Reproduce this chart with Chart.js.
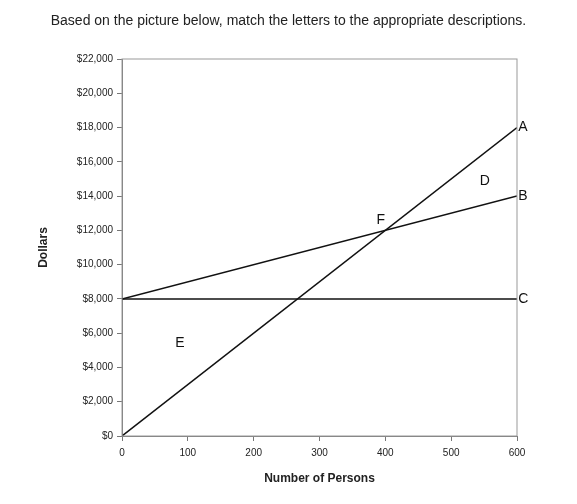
<!DOCTYPE html>
<html>
<head>
<meta charset="utf-8">
<script src="https://cdn.jsdelivr.net/npm/chart.js@4"></script>
<style>
  body { margin: 0; background: #fff; }
  #wrap { position: relative; width: 577px; height: 504px; }
  #title { position: absolute; top: 12px; left: 0; width: 577px; text-align: center;
           font: 14px "Liberation Sans", Arial, sans-serif; color: #222; }
</style>
</head>
<body>
<div id="wrap">
  <div id="title">Based on the picture below, match the letters to the appropriate descriptions.</div>
  <canvas id="c" width="577" height="504"></canvas>
</div>
<script>
// 데이터
const persons = [0, 600];
const lineA = [0, 18000];
const lineB = [8000, 14000];
const lineC = [8000, 8000];
const xTicks = [0, 100, 200, 300, 400, 500, 600];
const letters = ['A', 'B', 'C', 'D', 'E', 'F'];
const letterX = [602, 602, 602, 551, 88, 393];
const letterY = [18000, 14000, 8000, 14900, 5400, 12600];
const letterAlign = ['left', 'left', 'left', 'center', 'center', 'center'];

function toPoints(ys) {
    return persons.map((x, i) => ({ x: x, y: ys[i] }));
}

// 글자 라벨과 테두리를 그리는 플러그인
const letterPlugin = {
    id: 'letters',
    afterDatasetsDraw(chart) {
        const ctx = chart.ctx;
        const a = chart.chartArea;
        ctx.save();
        ctx.strokeStyle = '#999';
        ctx.lineWidth = 1;
        ctx.strokeRect(a.left, a.top, a.right - a.left, a.bottom - a.top);
        ctx.fillStyle = '#111';
        ctx.font = '14px "Liberation Sans", Arial, sans-serif';
        ctx.textBaseline = 'middle';
        letters.forEach((t, i) => {
            ctx.textAlign = letterAlign[i];
            ctx.fillText(t, chart.scales.x.getPixelForValue(letterX[i]),
                chart.scales.y.getPixelForValue(letterY[i]));
        });
        ctx.restore();
    }
};

const line = (ys) => ({
    data: toPoints(ys), borderColor: '#111', borderWidth: 1.5,
    pointRadius: 0, fill: false
});

const tickFont = { family: '"Liberation Sans", Arial, sans-serif', size: 10 };

new Chart(document.getElementById('c'), {
    type: 'line',
    data: { datasets: [line(lineA), line(lineB), line(lineC)] },
    options: {
        responsive: false,
        animation: false,
        layout: { padding: { top: 59, right: 60, bottom: 14, left: 36 } },
        plugins: { legend: { display: false }, tooltip: { enabled: false } },
        scales: {
            x: {
                type: 'linear', min: 0, max: 600,
                afterBuildTicks: s => { s.ticks = xTicks.map(v => ({ value: v })); },
                afterFit: s => { s.height = 54; },
                grid: { drawOnChartArea: false, tickLength: 5, color: '#777' },
                border: { color: '#777' },
                ticks: { font: tickFont, color: '#222', padding: 6, maxRotation: 0 },
                title: { display: true, text: 'Number of Persons', color: '#222',
                         font: { family: '"Liberation Sans", Arial, sans-serif', size: 12, weight: 'bold' } }
            },
            y: {
                min: 0, max: 22000,
                afterFit: s => { s.width = 86; },
                grid: { drawOnChartArea: false, tickLength: 5, color: '#777' },
                border: { color: '#777' },
                ticks: { stepSize: 2000, font: tickFont, color: '#222', padding: 4,
                         callback: v => '$' + v.toLocaleString('en-US') },
                title: { display: true, text: 'Dollars', color: '#222', padding: 0,
                         font: { family: '"Liberation Sans", Arial, sans-serif', size: 12, weight: 'bold' } }
            }
        }
    },
    plugins: [letterPlugin]
});
</script>
</body>
</html>
